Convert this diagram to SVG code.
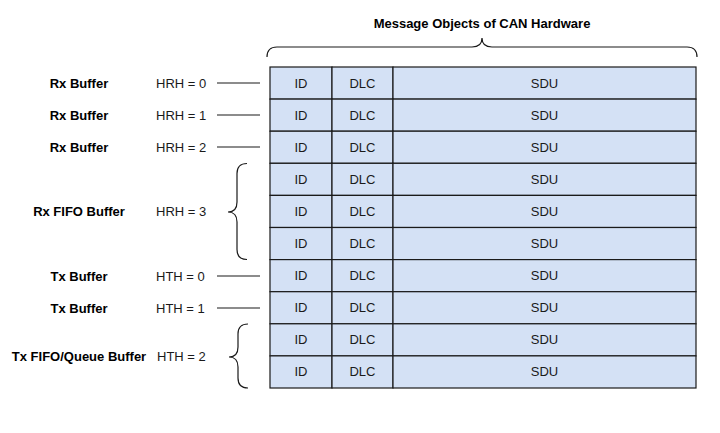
<svg xmlns="http://www.w3.org/2000/svg" width="720" height="433" viewBox="0 0 720 433">
<style>
.cell{fill:#d4e1f5;stroke:#1a1a1a;stroke-width:1.2}
.t{font-family:"Liberation Sans",Arial,sans-serif;font-size:13px;fill:#1a1a1a;text-anchor:middle}
.b{font-family:"Liberation Sans",Arial,sans-serif;font-size:13px;font-weight:bold;fill:#000;text-anchor:middle}
.h{font-family:"Liberation Sans",Arial,sans-serif;font-size:13px;fill:#1a1a1a}
.ln{fill:none;stroke:#1a1a1a;stroke-width:1.2}
</style>
<defs>
<g id="row">
<rect class="cell" x="270" y="0" width="62" height="32.1"/>
<rect class="cell" x="332" y="0" width="61" height="32.1"/>
<rect class="cell" x="393" y="0" width="303" height="32.1"/>
<text class="t" x="301" y="20.5">ID</text>
<text class="t" x="362.5" y="20.5">DLC</text>
<text class="t" x="544.5" y="20.5">SDU</text>
</g>
</defs>
<rect width="720" height="433" fill="#fff"/>
<g id="title">
<text class="b" x="482" y="28">Message Objects of CAN Hardware</text>
<path class="ln" d="M267,57 Q267,47 277,47 L472,47 Q482,47 482,38 Q482,47 492,47 L687,47 Q697,47 697,57"/>
</g>
<g id="table">
<use href="#row" y="67"/>
<use href="#row" y="99.1"/>
<use href="#row" y="131.2"/>
<use href="#row" y="163.3"/>
<use href="#row" y="195.4"/>
<use href="#row" y="227.5"/>
<use href="#row" y="259.6"/>
<use href="#row" y="291.7"/>
<use href="#row" y="323.8"/>
<use href="#row" y="355.9"/>
</g>
<g id="rx0"><text class="b" x="79" y="87.5">Rx Buffer</text><text class="h" x="156" y="87.5">HRH = 0</text></g>
<g id="rx1"><text class="b" x="79" y="119.5">Rx Buffer</text><text class="h" x="156" y="119.5">HRH = 1</text></g>
<g id="rx2"><text class="b" x="79" y="151.5">Rx Buffer</text><text class="h" x="156" y="151.5">HRH = 2</text></g>
<g id="rxfifo"><text class="b" x="79" y="216">Rx FIFO Buffer</text><text class="h" x="156" y="216">HRH = 3</text></g>
<g id="tx0"><text class="b" x="79" y="280.5">Tx Buffer</text><text class="h" x="156" y="280.5">HTH = 0</text></g>
<g id="tx1"><text class="b" x="79" y="312.5">Tx Buffer</text><text class="h" x="156" y="312.5">HTH = 1</text></g>
<g id="txfifo"><text class="b" x="79" y="361">Tx FIFO/Queue Buffer</text><text class="h" x="157" y="361">HTH = 2</text></g>
<g id="connectors">
<line class="ln" x1="217" y1="83" x2="260" y2="83"/>
<line class="ln" x1="217" y1="115" x2="260" y2="115"/>
<line class="ln" x1="217" y1="147" x2="260" y2="147"/>
<line class="ln" x1="217" y1="276" x2="260" y2="276"/>
<line class="ln" x1="217" y1="308" x2="260" y2="308"/>
<path class="ln" d="M247,163.5 Q237,163.5 237,173.5 L237,202 Q237,212 228,212 Q237,212 237,222 L237,249.5 Q237,259.5 247,259.5"/>
<path class="ln" d="M248,324 Q238,324 238,334 L238,347 Q238,357 229,357 Q238,357 238,367 L238,378 Q238,388 248,388"/>
</g>
</svg>
